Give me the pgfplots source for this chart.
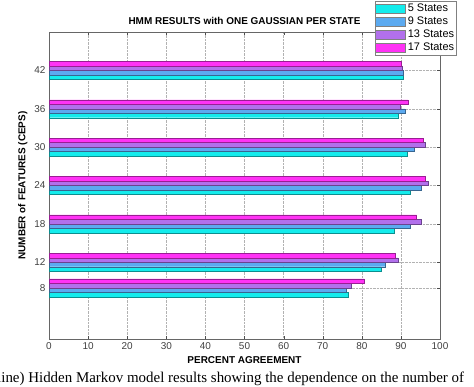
\documentclass[border=0pt]{standalone}
\usepackage{pgfplots}
\pgfplotsset{compat=1.18}
\usepackage{fontspec}
\setmainfont{Liberation Sans}
\newfontfamily\capfont{Liberation Serif}
\definecolor{cS}{RGB}{20,236,236}
\definecolor{bS}{RGB}{92,170,240}
\definecolor{pS}{RGB}{178,112,236}
\definecolor{mS}{RGB}{255,50,245}
\begin{document}
\begin{tikzpicture}
\begin{axis}[
  at={(0,0)}, anchor=south west,
  scale only axis, width=391bp, height=307bp,
  xbar, bar width=0.7,
  xmin=0, xmax=100, ymin=0, ymax=48,
  xtick={0,10,...,100},
  ytick={8,12,18,24,30,36,42},
  grid=major,
  major grid style={densely dotted, gray!60},
  tick align=inside,
  major tick length=3bp,
  tick style={black!70},
  axis line style={black!60},
  /pgf/number format/assume math mode=true,
  tick label style={font=\fontsize{10}{12}\selectfont, text=black!75},
  xlabel={\bfseries PERCENT AGREEMENT},
  ylabel={\bfseries NUMBER of FEATURES (CEPS)},
  xlabel style={font=\fontsize{10}{12}\selectfont},
  ylabel style={font=\fontsize{10}{12}\selectfont},
  title={\bfseries HMM RESULTS with ONE GAUSSIAN PER STATE},
  title style={font=\fontsize{10}{12}\selectfont, yshift=-2bp},
  legend style={at={(rel axis cs:1.043,0.925)}, anchor=south east,
    font=\fontsize{11}{12}\selectfont, draw=black!50, inner sep=0.5bp,
    row sep=0bp, cells={anchor=west}},
  legend cell align=left,
  legend image code/.code={\draw[#1,draw=black!50] (0bp,-4.6bp) rectangle (30bp,4.6bp);},
]
\addplot[fill=cS, draw=cS!60!black, bar shift=-1.05] coordinates {
 (76.5,8) (84.9,12) (88.2,18) (92.5,24) (91.5,30) (89.4,36) (90.5,42)};
\addplot[fill=bS, draw=bS!60!black, bar shift=-0.35] coordinates {
 (75.9,8) (86.0,12) (92.5,18) (95.3,24) (93.4,30) (91.0,36) (90.6,42)};
\addplot[fill=pS, draw=pS!60!black, bar shift=0.35] coordinates {
 (77.3,8) (89.3,12) (95.1,18) (97.1,24) (96.2,30) (89.8,36) (90.4,42)};
\addplot[fill=mS, draw=mS!60!black, bar shift=1.05] coordinates {
 (80.6,8) (88.6,12) (94.0,18) (96.2,24) (95.7,30) (91.8,36) (90.2,42)};
\legend{5 States, 9 States, 13 States, 17 States}
\end{axis}
\node[anchor=base west, inner sep=0pt, font=\capfont\fontsize{15}{17}\selectfont] at (-52bp,-43.5bp)
  {line) Hidden Markov model results showing the dependence on the number of};
\pgfresetboundingbox
\useasboundingbox (-49bp,-48bp) rectangle (425bp,339bp);
\end{tikzpicture}
\end{document}
